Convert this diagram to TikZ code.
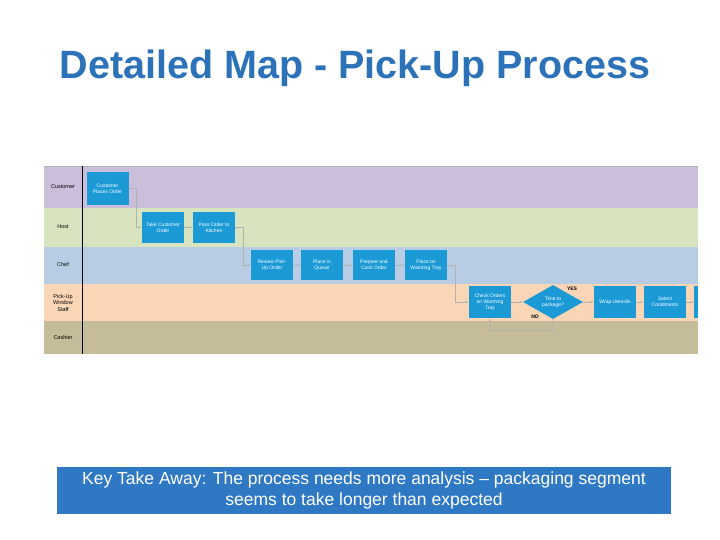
\documentclass[tikz,border=0pt]{standalone}
\usepackage{fontspec}
\setmainfont{Liberation Sans}
\usetikzlibrary{shapes.geometric,arrows.meta}
\definecolor{boxblue}{HTML}{1B9AD6}
\definecolor{titleblue}{HTML}{2B72B8}
\definecolor{lcust}{HTML}{CBBEDB}
\definecolor{lhost}{HTML}{D8E3BF}
\definecolor{lchef}{HTML}{B8CCE3}
\definecolor{lpick}{HTML}{FAD5B6}
\definecolor{lcash}{HTML}{C5BC9A}
\definecolor{keyblue}{HTML}{2F78C4}
\begin{document}
\begin{tikzpicture}[x=1pt,y=-1pt,
 pstep/.style={draw=none,fill=boxblue,text=white,minimum width=42pt,minimum height=31pt,inner sep=1pt,align=center,font=\fontsize{5}{5.8}\selectfont},
 lane/.style={font=\fontsize{5.5}{6.5}\selectfont,align=center},
 flow/.style={draw=gray!60,line width=1pt,-{Latex[length=3pt]}}]
\useasboundingbox (0,0) rectangle (720,540);
\node[font=\bfseries\fontsize{39.5}{44}\selectfont,text=titleblue] (title) at (355,68) {Detailed Map - Pick-Up Process};
\fill[lcust] (44,167) rectangle (698,208);
\fill[lhost] (44,208) rectangle (698,247);
\fill[lchef] (44,247) rectangle (698,284);
\fill[lpick] (44,284) rectangle (698,321);
\fill[lcash] (44,321) rectangle (698,354);
\draw[gray!60,line width=0.6pt] (44,166.5) -- (698,166.5);
\draw[line width=0.6pt] (82,166) -- (82,354);
\node[lane] (l1) at (63,187) {Customer};
\node[lane] (l2) at (63,227) {Host};
\node[lane] (l3) at (63,265) {Chef};
\node[lane] (l4) at (63,303) {Pick-Up\\Window\\Staff};
\node[lane] (l5) at (63,338) {Cashier};
\node[pstep,minimum height=33pt] (a) at (107.5,188.5) {Customer\\Places Order};
\node[pstep] (b) at (163,227.5) {Take Customer\\Order};
\node[pstep] (c) at (214,227.5) {Pass Order to\\Kitchen};
\node[pstep,minimum height=30pt] (d) at (272,265) {Review Pick-\\Up Order};
\node[pstep,minimum height=30pt] (e) at (322,265) {Place in\\Queue};
\node[pstep,minimum height=30pt] (f) at (374,265) {Prepare and\\Cook Order};
\node[pstep,minimum height=30pt] (g) at (426,265) {Place on\\Warming Tray};
\node[pstep,minimum height=32pt] (h) at (490,302) {Check Orders\\on Warming\\Tray};
\node[diamond,fill=boxblue,text=white,minimum width=60pt,minimum height=34pt,inner sep=0pt,aspect=1.8,align=center,font=\fontsize{5}{5.8}\selectfont] (i) at (553,302) {Time to\\package?};
\node[pstep,minimum height=32pt] (j) at (615,302) {Wrap Utensils};
\node[pstep,minimum height=32pt] (k) at (665,302) {Select\\Condiments};
\fill[boxblue] (694,286) rectangle (698,318);
\coordinate (z) at (694,302);
\draw[flow] (a.east) -- ++(8,0) |- (b.west);
\draw[flow] (b) -- (c);
\draw[flow] (c.east) -- ++(8,0) |- (d.west);
\draw[flow] (d) -- (e);
\draw[flow] (e) -- (f);
\draw[flow] (f) -- (g);
\draw[flow] (g.east) -- ++(8,0) |- (h.west);
\draw[flow] (h) -- (i);
\draw[flow] (i) -- (j);
\draw[flow] (j) -- (k);
\draw[flow] (k) -- (z);
\draw[flow] (i.south) -- ++(0,11) -| (h.south);
\node[font=\bfseries\fontsize{5}{5.5}\selectfont] (yes) at (572,289) {YES};
\node[font=\bfseries\fontsize{5}{5.5}\selectfont] (no) at (535,317) {NO};
\node[fill=keyblue,text=white,minimum width=614pt,minimum height=47pt,align=center,font=\fontsize{17.5}{21.5}\selectfont] (key) at (364,490.5) {Key Take Away: The process needs more analysis -- packaging segment\\seems to take longer than expected};
\end{tikzpicture}
\end{document}
